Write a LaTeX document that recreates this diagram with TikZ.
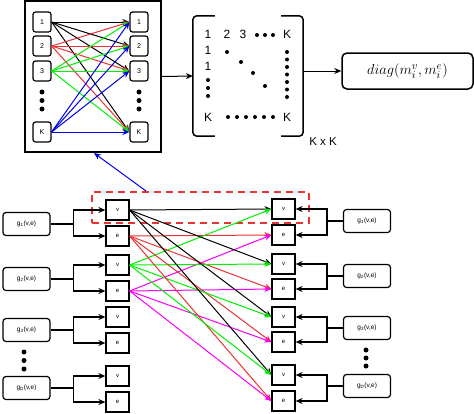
\documentclass[tikz,border=0pt]{standalone}
\usepackage{fontspec}
\setmainfont{Liberation Sans}
\usetikzlibrary{arrows.meta,calc}
\definecolor{cred}{RGB}{235,50,50}
\definecolor{cgreen}{RGB}{0,240,0}
\definecolor{cblue}{RGB}{0,0,230}
\definecolor{cmag}{RGB}{250,0,250}
\begin{document}
\begin{tikzpicture}[x=1pt,y=-1pt,
 kbox/.style={draw,line width=1.2pt,rounded corners=2.5pt,minimum width=18pt,minimum height=20pt,inner sep=0pt,font=\fontsize{7}{7}\selectfont},
 vebox/.style={draw,line width=1.2pt,minimum width=23pt,minimum height=20pt,inner sep=0pt,font=\fontsize{6}{6}\selectfont},
 gbox/.style={draw,line width=1.2pt,rounded corners=3pt,minimum width=47pt,minimum height=23pt,inner sep=0pt,font=\fontsize{6.5}{6.5}\selectfont},
 arr/.style={-{Stealth[length=7pt,width=6pt]},line width=1pt},
 link/.style={line width=1.2pt},
 bigdot/.style={circle,fill,inner sep=0pt,minimum size=5pt},
 mdot/.style={circle,fill,inner sep=0pt,minimum size=4pt},
 mtxt/.style={inner sep=0pt,font=\fontsize{12}{12}\selectfont}]
\useasboundingbox (0,0) rectangle (474,413);

% ---------- top box ----------
\node[draw,line width=2pt,minimum width=136pt,minimum height=151pt,inner sep=0pt] (topbox) at (93,76.5) {};
\node[kbox] (L1) at (42,22) {1};
\node[kbox] (L2) at (42,46) {2};
\node[kbox] (L3) at (42,71) {3};
\node[kbox] (LK) at (42,132) {K};
\node[kbox] (R1) at (139,22) {1};
\node[kbox] (R2) at (139,46) {2};
\node[kbox] (R3) at (139,71) {3};
\node[kbox] (RK) at (139,132) {K};
\foreach \y [count=\i] in {92,100.5,109} {
  \node[bigdot] (ld\i) at (42,\y) {};
  \node[bigdot] (rd\i) at (139,\y) {};
}
\foreach \s/\c in {L1/black,L2/cred,L3/cgreen,LK/cblue} {
  \foreach \t in {R1,R2,R3,RK} {
    \draw[arr,\c] (\s.east) -- (\t.west);
  }
}

% ---------- matrix ----------
\node[minimum width=110pt,minimum height=120pt,inner sep=0pt] (mat) at (248,76) {};
\draw[line width=1.5pt,rounded corners=4pt] ($(mat.north west)+(22,0)$) -- (mat.north west) -- (mat.south west) -- ($(mat.south west)+(22,0)$);
\draw[line width=1.5pt,rounded corners=4pt] ($(mat.north east)+(-22,0)$) -- (mat.north east) -- (mat.south east) -- ($(mat.south east)+(-22,0)$);
\node[mtxt] (m11) at (208,34) {1};
\node[mtxt] (m12) at (227,34) {2};
\node[mtxt] (m13) at (243,34) {3};
\node[mtxt] (m1K) at (287,34) {K};
\node[mtxt] (m21) at (208,50) {1};
\node[mtxt] (m31) at (208,66) {1};
\node[mtxt] (mK1) at (208,117) {K};
\node[mtxt] (mKK) at (287,117) {K};
\foreach \x in {257,265,273} \node[mdot] at (\x,35) {};
\foreach \y in {80,88,96} \node[mdot] at (208,\y) {};
\foreach \x/\y in {227/52,241/62,253/73,265/86} \node[mdot] at (\x,\y) {};
\foreach \y in {52,59.5,67,74.5,82,89.5,97} \node[mdot] at (287,\y) {};
\foreach \x in {228,237,246,255,264,273} \node[mdot] at (\x,117) {};
\node[inner sep=0pt,font=\fontsize{11.5}{11.5}\selectfont] (kxk) at (323,142) {K x K};

% ---------- diag box ----------
\node[draw,line width=1.5pt,rounded corners=5pt,minimum width=131pt,minimum height=36pt,inner sep=0pt,font=\fontsize{15.5}{15.5}\selectfont] (diag) at (407.5,71) {$diag(m_i^v,m_i^e)$};

\draw[arr] (topbox.east) -- (mat.west);
\draw[arr] (mat.east |- diag.west) -- (diag.west);

% ---------- bottom ----------
\node[draw,cred,dashed,dash pattern=on 7pt off 5pt,line width=2pt,minimum width=217pt,minimum height=31pt,inner sep=0pt] (dashbox) at (200.5,207.5) {};

\node[gbox] (lg1) at (26.5,224) {g\textsubscript{1}(v,e)};
\node[gbox] (lg2) at (26.5,279) {g\textsubscript{2}(v,e)};
\node[gbox] (lg3) at (26.5,330) {g\textsubscript{3}(v,e)};
\node[gbox] (lg4) at (26.5,388) {g\textsubscript{D}(v,e)};
\node[gbox] (rg1) at (367,221) {g\textsubscript{1}(v,e)};
\node[gbox] (rg2) at (367,276) {g\textsubscript{2}(v,e)};
\node[gbox] (rg3) at (367,328) {g\textsubscript{3}(v,e)};
\node[gbox] (rg4) at (367,386) {g\textsubscript{D}(v,e)};
\foreach \y [count=\i] in {352,360.5,369} \node[bigdot] (lgd\i) at (24,\y) {};
\foreach \y [count=\i] in {350,358,366} \node[bigdot] (rgd\i) at (366,\y) {};

\foreach \vy/\ey [count=\i] in {210/236,265/291,317/343,376/402} {
  \node[vebox] (lv\i) at (117.5,\vy) {v};
  \node[vebox] (le\i) at (117.5,\ey) {e};
}
\foreach \vy/\ey [count=\i] in {209/235,264/289,317/342,375/401} {
  \node[vebox] (rv\i) at (283.5,\vy) {v};
  \node[vebox] (re\i) at (283.5,\ey) {e};
}
\foreach \i in {1,2,3,4} {
  \draw[link] (lg\i.east) -- ++(23,0) coordinate (lj\i);
  \draw[arr,line width=1.2pt] (lj\i) |- (lv\i.west);
  \draw[arr,line width=1.2pt] (lj\i) |- (le\i.west);
  \draw[link] (rg\i.west) -- ++(-16,0) coordinate (rj\i);
  \draw[arr,line width=1.2pt] (rj\i) |- (rv\i.east);
  \draw[arr,line width=1.2pt] (rj\i) |- (re\i.east);
}

\foreach \t in {1,2,3,4} {
  \draw[arr,black] (lv1.east) -- (rv\t.west);
  \draw[arr,cred] (le1.east) -- (re\t.west);
  \draw[arr,cgreen] (lv2.east) -- (rv\t.west);
  \draw[arr,cmag] (le2.east) -- (re\t.west);
}

\draw[arr,cblue] ([xshift=-54.5pt]dashbox.north) -- ([xshift=1pt]topbox.south);
\end{tikzpicture}
\end{document}
